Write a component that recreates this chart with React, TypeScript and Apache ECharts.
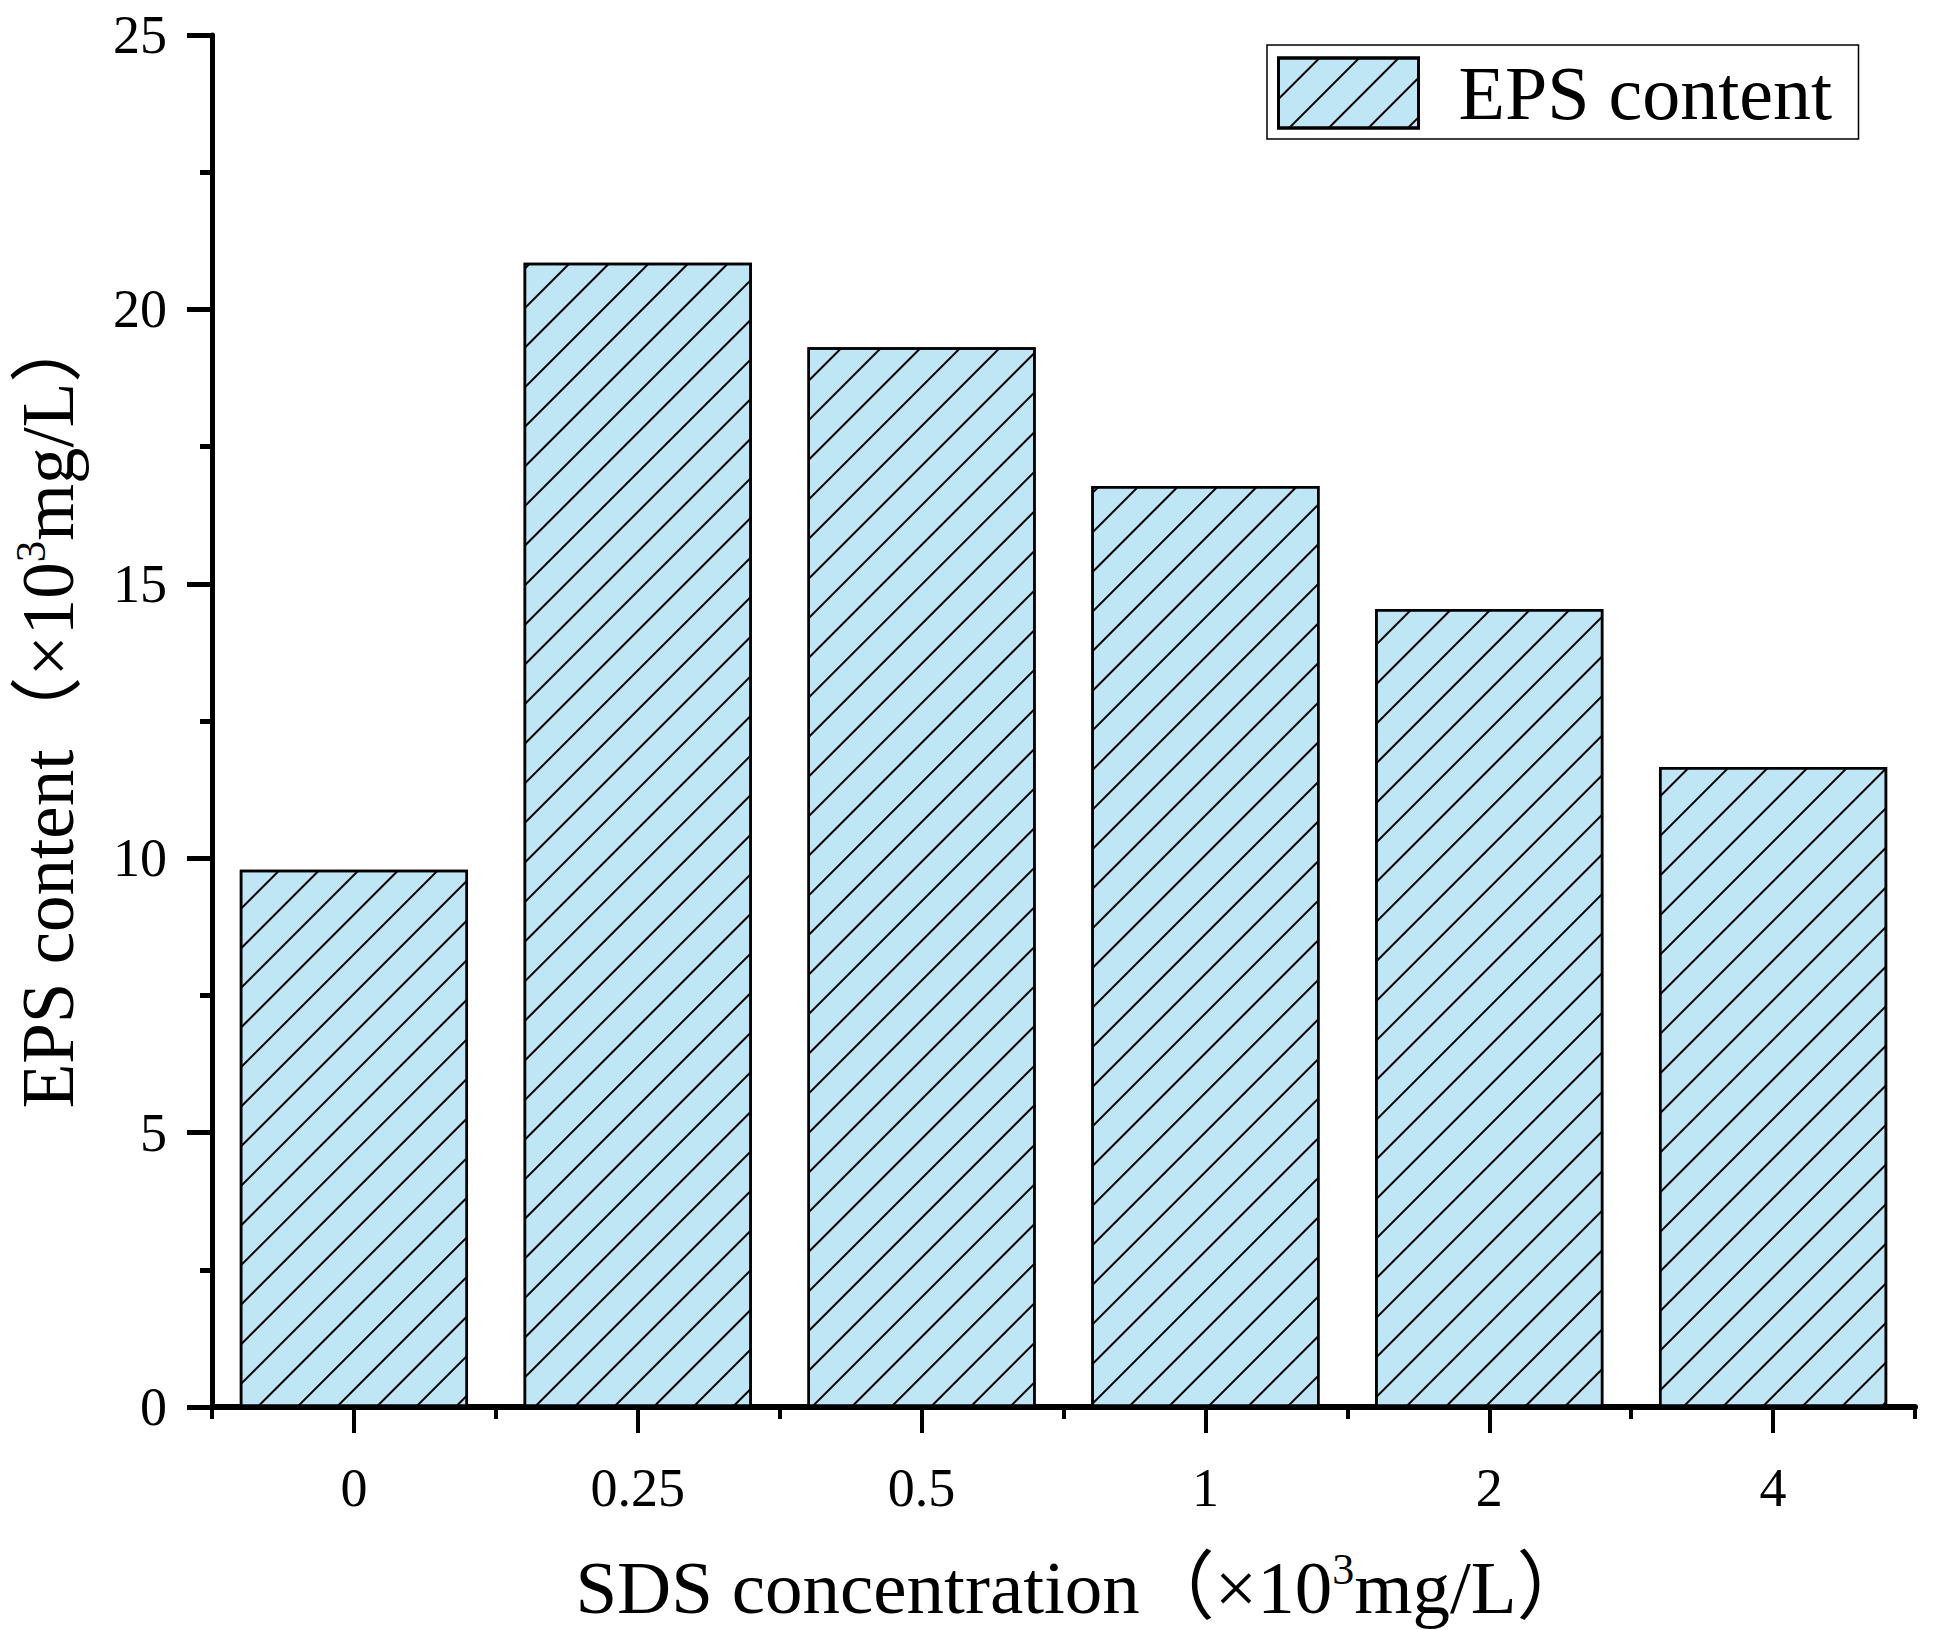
import React, { useEffect, useRef } from "react";
import * as echarts from "echarts";

const categories = ["0", "0.25", "0.5", "1", "2", "4"];
const epsValues = [9.79, 20.85, 19.31, 16.78, 14.54, 11.66];
const seriesName = "EPS content";
const yMin = 0;
const yMax = 25;
const yInterval = 5;

const FONT = "'Liberation Serif', 'Noto Sans CJK SC', serif";

export default function App() {
  const ref = useRef<HTMLDivElement>(null);
  useEffect(() => {
    if (!ref.current) return;
    const chart = echarts.init(ref.current, undefined, { renderer: "svg" });
    const hatch = {
      symbol: "rect",
      symbolSize: 1,
      color: "#000000",
      dashArrayX: [1, 0],
      dashArrayY: [1.6, 25.3],
      rotation: -Math.PI / 4,
    };
    chart.setOption({
      animation: false,
      backgroundColor: "#ffffff",
      aria: { enabled: true, decal: { show: true } },
      grid: { left: 212, right: 20, top: 35, bottom: 223, containLabel: false },
      legend: {
        left: 1267,
        top: 45,
        orient: "horizontal",
        padding: [10, 14, 8, 10],
        borderColor: "#000",
        borderWidth: 1.5,
        icon: "rect",
        itemWidth: 140,
        itemHeight: 70,
        itemStyle: { borderColor: "#000", borderWidth: 3 },
        textStyle: {
          fontFamily: FONT,
          fontSize: 76,
          lineHeight: 70,
          color: "#000",
          width: 386,
          padding: [0, 0, 0, 35],
        },
        data: [seriesName],
      },
      xAxis: [
        {
          type: "category",
          data: categories,
          position: "bottom",
          axisLine: { show: true, lineStyle: { color: "#000", width: 6 } },
          axisTick: { show: true, alignWithLabel: true, length: 26, lineStyle: { color: "#000", width: 4 } },
          axisLabel: { fontFamily: FONT, fontSize: 54, color: "#000", margin: 54 },
          splitLine: { show: false },
          name: "{n|SDS concentration（×10}{s|3}{n|mg/L）}",
          nameLocation: "middle",
          nameGap: 140,
          nameTextStyle: {
            padding: [0, 0, 0, 40],
            rich: {
              n: { fontFamily: FONT, fontSize: 75, color: "#000", lineHeight: 80 },
              s: { fontFamily: FONT, fontSize: 44, color: "#000", verticalAlign: "top", lineHeight: 80 },
            },
          },
        },
        {
          type: "category",
          data: categories,
          position: "bottom",
          axisLine: { show: false },
          axisTick: { show: true, alignWithLabel: false, length: 12, lineStyle: { color: "#000", width: 4 } },
          axisLabel: { show: false },
          splitLine: { show: false },
        },
      ],
      yAxis: {
        type: "value",
        min: yMin,
        max: yMax,
        interval: yInterval,
        axisLine: { show: true, lineStyle: { color: "#000", width: 5 } },
        axisTick: { show: true, length: 25, lineStyle: { color: "#000", width: 5 } },
        minorTick: { show: true, splitNumber: 2, length: 12, lineStyle: { color: "#000", width: 5 } },
        axisLabel: { fontFamily: FONT, fontSize: 54, color: "#000", margin: 45 },
        splitLine: { show: false },
        name: "{n|EPS content（×10}{s|3}{n|mg/L）}",
        nameLocation: "middle",
        nameGap: 125,
        nameTextStyle: {
          padding: [0, 0, 0, 24],
          rich: {
            n: { fontFamily: FONT, fontSize: 73, color: "#000", lineHeight: 78 },
            s: { fontFamily: FONT, fontSize: 43, color: "#000", verticalAlign: "top", lineHeight: 78 },
          },
        },
      },
      series: [
        {
          name: seriesName,
          type: "bar",
          xAxisIndex: 0,
          data: epsValues,
          barCategoryGap: "19.6%",
          itemStyle: {
            color: "#BEE6F5",
            borderColor: "#000",
            borderWidth: 2.5,
            decal: hatch,
          },
        },
      ],
    });
    return () => chart.dispose();
  }, []);
  return (
    <div
      ref={ref}
      style={{ position: "absolute", left: 0, top: 0, width: 1935, height: 1630, background: "#fff" }}
    />
  );
}
